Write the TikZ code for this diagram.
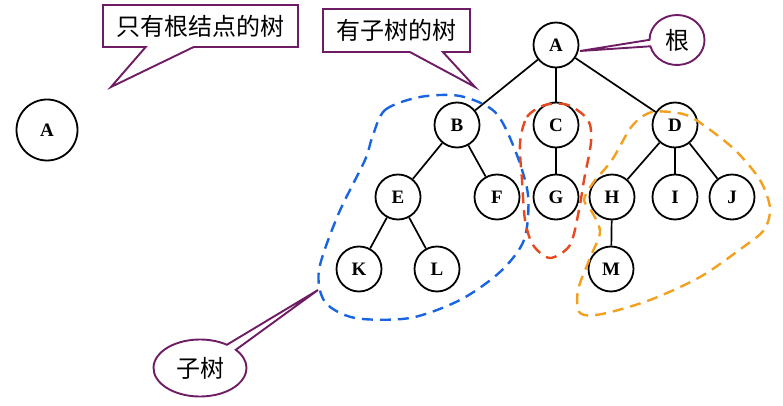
\documentclass[tikz,border=0pt]{standalone}
\usepackage{fontspec}
\setmainfont{Liberation Serif}
\newfontfamily\cjk{Noto Sans CJK SC}
\usetikzlibrary{shapes.callouts,shapes.geometric}
\definecolor{notepurple}{RGB}{110,28,100}
\definecolor{loopblue}{RGB}{25,100,225}
\definecolor{loopred}{RGB}{232,72,30}
\definecolor{looporange}{RGB}{242,160,30}
\tikzstyle{vertex} = [circle, draw, fill=white, line width=1.8pt, minimum size=45pt, inner sep=0pt, font=\fontsize{19}{19}\selectfont\bfseries]
\tikzstyle{edge} = [draw, line width=1.7pt]
\tikzstyle{note} = [rectangle callout, draw=notepurple, fill=white, line width=1.9pt, inner sep=0pt, font=\cjk\fontsize{24}{24}\selectfont]
\tikzstyle{bubble} = [ellipse callout, draw=notepurple, fill=white, line width=1.9pt, inner sep=0pt, font=\cjk\fontsize{24}{24}\selectfont]
\tikzstyle{subloop} = [dash pattern=on 11pt off 7pt, line width=2.4pt]

\begin{document}
\begin{tikzpicture}[x=1pt, y=-1pt]
    \useasboundingbox (0,0) rectangle (783,406);
    % tree with only a root
    \node [vertex, minimum size=61pt] (single) at (47,130) {A};
    % tree with subtrees
    \node [vertex] (a) at (556,45) {A};
    \node [vertex] (b) at (457,125) {B};
    \node [vertex] (c) at (556,125) {C};
    \node [vertex] (d) at (675,125) {D};
    \node [vertex] (e) at (398,197) {E};
    \node [vertex] (f) at (497,197) {F};
    \node [vertex] (g) at (556,197) {G};
    \node [vertex] (h) at (612,197) {H};
    \node [vertex] (i) at (675,197) {I};
    \node [vertex] (j) at (732,197) {J};
    \node [vertex] (k) at (359,269) {K};
    \node [vertex] (l) at (437,269) {L};
    \node [vertex] (m) at (611,269) {M};
    \path [edge] (a) -- (b);
    \path [edge] (a) -- (c);
    \path [edge] (a) -- (d);
    \path [edge] (b) -- (e);
    \path [edge] (b) -- (f);
    \path [edge] (c) -- (g);
    \path [edge] (d) -- (h);
    \path [edge] (d) -- (i);
    \path [edge] (d) -- (j);
    \path [edge] (e) -- (k);
    \path [edge] (e) -- (l);
    \path [edge] (h) -- (m);
    % subtree outlines
    \draw [subloop, loopblue] plot [smooth cycle] coordinates {(372,138) (385,110) (420,97) (460,96) (495,112) (515,150) (528,195) (524,240) (500,272) (460,300) (410,318) (355,318) (325,302) (319,270) (338,215) (365,160)};
    \draw [subloop, loopred] plot [smooth cycle] coordinates {(520,143) (527,117) (545,105) (568,105) (588,120) (591,142) (584,180) (579,210) (570,245) (550,258) (533,245) (525,220) (522,180)};
    \draw [subloop, looporange] plot [smooth cycle] coordinates {(593,183) (612,160) (632,126) (652,112) (683,114) (702,124) (735,150) (760,180) (770,208) (764,230) (742,248) (700,277) (650,300) (602,314) (580,313) (578,290) (590,258) (600,232) (592,212) (584,200)};
    % callouts
    \coordinate (tipsingle) at (111,87);
    \coordinate (tiptree) at (475,87);
    \coordinate (tiproot) at (580,51);
    \coordinate (tipsub) at (318,290);
    \node [note, minimum width=195pt, minimum height=42pt, callout pointer width=48pt, callout absolute pointer=(tipsingle)] (onlyroot) at (200.5,26) {只有根结点的树};
    \node [note, minimum width=147pt, minimum height=43pt, callout pointer width=33pt, callout absolute pointer=(tiptree)] (withsub) at (396.5,30.5) {有子树的树};
    \node [bubble, minimum width=55pt, minimum height=50pt, callout absolute pointer=(tiproot)] (root) at (677,40) {根};
    \node [bubble, minimum width=93pt, minimum height=57pt, callout absolute pointer=(tipsub)] (sub) at (200,368) {子树};
\end{tikzpicture}
\end{document}
